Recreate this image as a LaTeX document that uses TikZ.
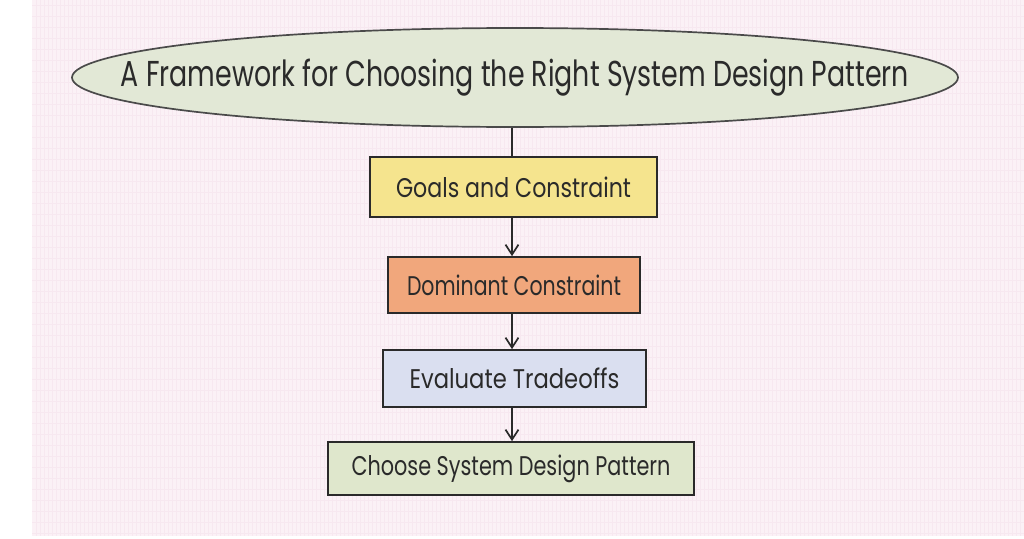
\documentclass[tikz,border=0pt]{standalone}
\usepackage{fontspec}
\usepackage{graphicx}
\setmainfont{Poppins}
\usetikzlibrary{shapes.geometric,arrows.meta}
\definecolor{bgpink}{HTML}{FBF1F6}
\definecolor{gridpink}{HTML}{F7E8F0}
\definecolor{inkc}{HTML}{2A2A2A}
\definecolor{sagefill}{HTML}{E2E8D6}
\definecolor{yellowfill}{HTML}{F5E48E}
\definecolor{orangefill}{HTML}{F1A77C}
\definecolor{lavfill}{HTML}{DADFF0}
\definecolor{greenfill}{HTML}{DFE7CC}
\newcommand{\fitw}[2]{\resizebox{#1}{\height}{#2}}
\tikzset{
  stepbox/.style={draw=inkc, line width=1.7pt, rectangle, inner sep=0pt, text=inkc},
  titleshape/.style={draw=inkc!85, line width=1.7pt, ellipse, inner sep=0pt, text=inkc, fill=sagefill},
  link/.style={draw=inkc, line width=1.7pt},
  arrowlink/.style={link, -{Straight Barb[length=10pt,width=13pt,line width=1.7pt]}},
  boxfont/.style={font=\fontsize{27}{30}\selectfont},
}
\begin{document}
\begin{tikzpicture}[x=1pt,y=-1pt]
\useasboundingbox (0,0) rectangle (1024,538);
\fill[white] (0,0) rectangle (1024,538);
\fill[bgpink] (32,0) rectangle (1024,536);
\foreach \yy in {5,16,...,536} {\draw[gridpink, line width=0.6pt] (32,\yy) -- (1024,\yy);}
\foreach \xx in {36,40,...,1024} {\draw[gridpink, line width=0.3pt] (\xx,0) -- (\xx,536);}

\node[titleshape, minimum width=886pt, minimum height=99pt, font=\fontsize{36}{40}\selectfont] (title) at (515,77.5) {\makebox[0pt]{\fitw{788pt}{A Framework for Choosing the Right System Design Pattern}}};

\node[stepbox, fill=yellowfill, minimum width=287pt, minimum height=60pt, boxfont] (goals) at (513.5,187) {\fitw{235pt}{Goals and Constraint}};
\node[stepbox, fill=orangefill, minimum width=252pt, minimum height=56pt, boxfont] (dominant) at (514,285) {\fitw{214pt}{Dominant Constraint}};
\node[stepbox, fill=lavfill, minimum width=263pt, minimum height=57pt, boxfont] (evaluate) at (514.5,378.5) {\fitw{210pt}{Evaluate Tradeoffs}};
\node[stepbox, fill=greenfill, minimum width=366pt, minimum height=53pt, boxfont] (choose) at (511,468.5) {\fitw{319pt}{Choose System Design Pattern}};

\draw[link] (512,0 |- title.south) -- (512,0 |- goals.north);
\draw[arrowlink] (goals.south -| 512,0) -- (512,0 |- dominant.north);
\draw[arrowlink] (dominant.south -| 512,0) -- (512,0 |- evaluate.north);
\draw[arrowlink] (evaluate.south -| 512,0) -- (512,0 |- choose.north);
\end{tikzpicture}
\end{document}
